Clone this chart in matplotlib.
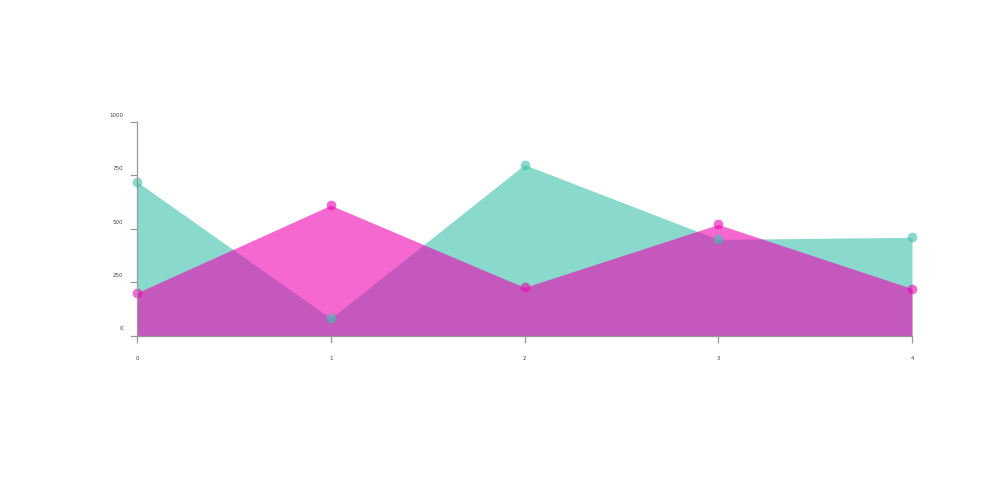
import numpy as np
import matplotlib.pyplot as plt
import matplotlib.transforms as mtransforms

x_vals = [0, 1, 2, 3, 4]
teal_vals = [720, 80, 800, 450, 460]
pink_vals = [200, 610, 225, 520, 220]
y_ticks = [0, 250, 500, 750, 1000]

teal = '#3cc0ad'
pink = '#ee03b1'

fig = plt.figure(figsize=(10, 5), dpi=100)
ax = fig.add_axes([0.137, 0.329, 0.775, 0.427])

# teal layer first, pink on top (both semi transparent)
ax.fill_between(x_vals, teal_vals, 0, color=teal, alpha=0.6, linewidth=0)
ax.plot(x_vals, teal_vals, 'o', color=teal, alpha=0.6, markersize=7,
        markeredgewidth=0, clip_on=False)
ax.fill_between(x_vals, pink_vals, 0, color=pink, alpha=0.6, linewidth=0)
ax.plot(x_vals, pink_vals, 'o', color=pink, alpha=0.6, markersize=7,
        markeredgewidth=0, clip_on=False)

ax.set_xlim(0, 4)
ax.set_ylim(0, 1000)
ax.set_xticks(x_vals)
ax.set_yticks(y_ticks)

for s in ['top', 'right']:
    ax.spines[s].set_visible(False)
for s in ['left', 'bottom']:
    ax.spines[s].set_color('#999999')
    ax.spines[s].set_linewidth(0.9)

ax.tick_params(axis='both', length=5, width=0.9, color='#999999',
               labelsize=4, labelcolor='#444444')
ax.tick_params(axis='x', pad=10)
ax.tick_params(axis='y', pad=5)

# y labels sit a little above their tick
offset = mtransforms.ScaledTranslation(0, 7 / 100, fig.dpi_scale_trans)
for lab in ax.get_yticklabels():
    lab.set_transform(lab.get_transform() + offset)

fig.savefig('out.png', dpi=100)
